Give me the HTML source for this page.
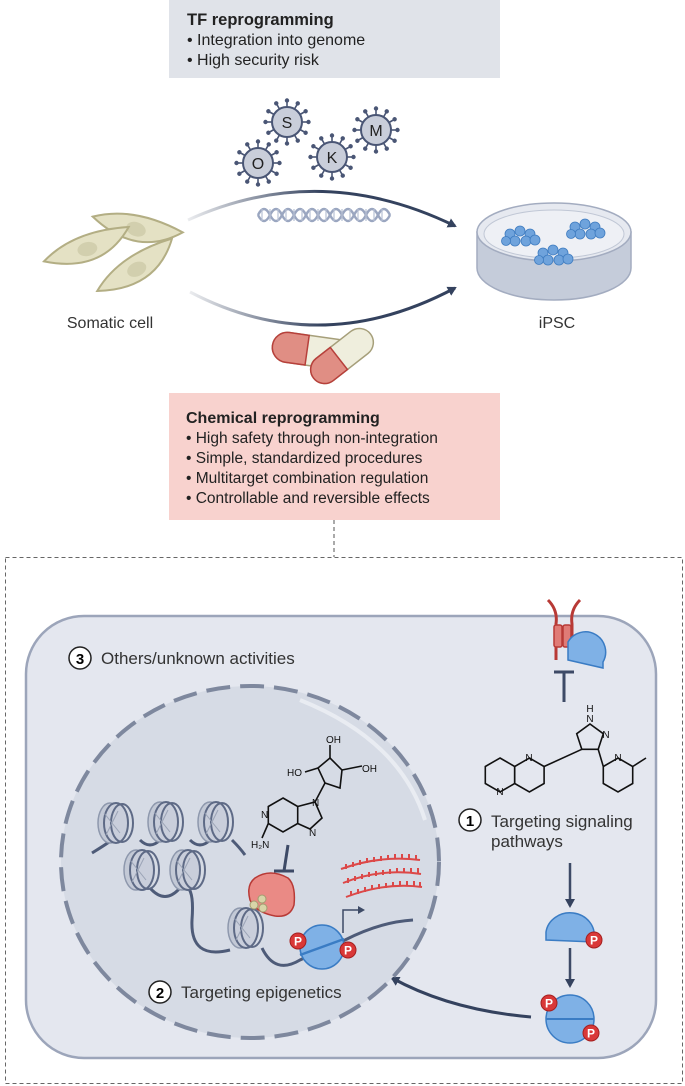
<!DOCTYPE html>
<html><head><meta charset="utf-8"><style>
html,body{margin:0;padding:0;background:#fff;}
svg{display:block;}
text{font-family:"Liberation Sans",Arial,sans-serif;}
</style></head><body>
<svg width="685" height="1086" viewBox="0 0 685 1086" xmlns="http://www.w3.org/2000/svg">
<defs>
<marker id="ah" markerWidth="10" markerHeight="10" refX="7" refY="5" orient="auto" markerUnits="userSpaceOnUse">
<path d="M0,0 L9,5 L0,10 Z" fill="#34425e"/></marker>
<linearGradient id="ga" x1="0" x2="1"><stop offset="0" stop-color="#34425e" stop-opacity="0.1"/><stop offset="0.5" stop-color="#34425e"/></linearGradient>
<g id="spk"><line x1="0" y1="-15" x2="0" y2="-20" stroke="#4a5675" stroke-width="1.6"/><circle cx="0" cy="-21.5" r="2.2" fill="#4a5675"/></g>
<g id="vir">
<use href="#spk"/><use href="#spk" transform="rotate(30)"/><use href="#spk" transform="rotate(60)"/><use href="#spk" transform="rotate(90)"/><use href="#spk" transform="rotate(120)"/><use href="#spk" transform="rotate(150)"/><use href="#spk" transform="rotate(180)"/><use href="#spk" transform="rotate(210)"/><use href="#spk" transform="rotate(240)"/><use href="#spk" transform="rotate(270)"/><use href="#spk" transform="rotate(300)"/><use href="#spk" transform="rotate(330)"/>
<circle r="15" fill="#c9ceda" stroke="#4a5675" stroke-width="2"/></g>
<g id="cel"><path d="M-45,0 Q-10,-24 45,-16 Q10,24 -45,0 Z" fill="#e4e1c4" stroke="#b3ae84" stroke-width="2"/><ellipse cx="0" cy="-3" rx="10" ry="7" fill="#d2cfae"/></g>
<g id="col" fill="#6fa3dc" stroke="#3f7cc0" stroke-width="0.8"><circle cx="-10" cy="-3" r="5"/><circle cx="0" cy="-6" r="5"/><circle cx="10" cy="-3" r="5"/><circle cx="-5" cy="4" r="5"/><circle cx="6" cy="4" r="5"/><circle cx="15" cy="3" r="5"/><circle cx="-14" cy="4" r="4.5"/></g>
<g id="nuc"><ellipse cx="0" cy="0" rx="12" ry="20" fill="#c3c9d6" stroke="#8e98ad" stroke-width="1.5"/><ellipse cx="6" cy="0" rx="12" ry="20" fill="#c9cedb" stroke="#5e6a86" stroke-width="2"/><ellipse cx="12" cy="0" rx="11" ry="19" fill="none" stroke="#5e6a86" stroke-width="2"/><line x1="-6" y1="-10" x2="10" y2="10" stroke="#9aa3b6"/><line x1="-4" y1="12" x2="8" y2="-12" stroke="#9aa3b6"/></g>
<g id="pp"><circle r="8" fill="#d93838" stroke="#a51f1f"/><text y="4.5" text-anchor="middle" font-size="12" font-weight="bold" fill="#fff">P</text></g>
</defs>

<rect x="169" y="0" width="331" height="78" fill="#e0e3e9"/>
<text x="187" y="25" font-size="16.5" font-weight="bold" fill="#222">TF reprogramming</text>
<text x="187" y="45" font-size="16" fill="#222">• Integration into genome</text>
<text x="187" y="65" font-size="16" fill="#222">• High security risk</text>

<use href="#vir" x="287" y="122"/><text x="287" y="128" font-size="16" text-anchor="middle" fill="#222">S</text>
<use href="#vir" x="258" y="163"/><text x="258" y="169" font-size="16" text-anchor="middle" fill="#222">O</text>
<use href="#vir" x="332" y="157"/><text x="332" y="163" font-size="16" text-anchor="middle" fill="#222">K</text>
<use href="#vir" x="376" y="130"/><text x="376" y="136" font-size="16" text-anchor="middle" fill="#222">M</text>

<path d="M188,220 Q320,160 455,226" fill="none" stroke="url(#ga)" stroke-width="3" marker-end="url(#ah)"/>
<path d="M190,292 Q320,360 455,288" fill="none" stroke="url(#ga)" stroke-width="3" marker-end="url(#ah)"/>
<g fill="none" stroke="#9aa6c0" stroke-width="2.5">
<path d="M258,215 q6,-12 12,0 t12,0 t12,0 t12,0 t12,0 t12,0 t12,0 t12,0 t12,0 t12,0 t12,0"/>
<path d="M258,215 q6,12 12,0 t12,0 t12,0 t12,0 t12,0 t12,0 t12,0 t12,0 t12,0 t12,0 t12,0"/>
</g>
<g stroke="#b8c1d4" stroke-width="1.2"><path d="M262,209v12M270,209v12M278,209v12M286,209v12M294,209v12M302,209v12M310,209v12M318,209v12M326,209v12M334,209v12M342,209v12M350,209v12M358,209v12M366,209v12M374,209v12M382,209v12"/></g>

<use href="#cel" transform="translate(135,232) rotate(20)"/>
<use href="#cel" transform="translate(88,252) rotate(-12)"/>
<use href="#cel" transform="translate(138,272) rotate(-25)"/>
<text x="110" y="328" font-size="16" text-anchor="middle" fill="#333">Somatic cell</text>

<path d="M477,232 L477,268 A77,32 0 0 0 631,268 L631,232 Z" fill="#c5ccda" stroke="#a3acc0" stroke-width="1.5"/>
<ellipse cx="554" cy="232" rx="77" ry="29" fill="#e6e9f0" stroke="#a3acc0" stroke-width="1.5"/>
<ellipse cx="554" cy="234" rx="70" ry="24" fill="#eef0f5" stroke="#c0c7d5"/>
<use href="#col" x="520" y="237"/><use href="#col" x="585" y="230"/><use href="#col" x="553" y="256"/>
<text x="557" y="328" font-size="16" text-anchor="middle" fill="#333">iPSC</text>

<g transform="translate(320,352) rotate(8)"><rect x="-48" y="-15" width="80" height="30" rx="15" fill="#efeedd" stroke="#a69f7a" stroke-width="1.5"/><path d="M-33,-15 h20 v30 h-20 a15,15 0 0 1 0,-30z" fill="#e08e84" stroke="#b7403b" stroke-width="1.5"/></g>
<g transform="translate(342,356) rotate(-38)"><rect x="-36" y="-14" width="72" height="28" rx="14" fill="#efeedd" stroke="#a69f7a" stroke-width="1.5"/><path d="M-22,-14 h18 v28 h-18 a14,14 0 0 1 0,-28z" fill="#e08e84" stroke="#b7403b" stroke-width="1.5"/></g>

<rect x="169" y="393" width="331" height="127" fill="#f8d2ce"/>
<text x="186" y="423" font-size="16" font-weight="bold" fill="#222">Chemical reprogramming</text>
<text x="186" y="443" font-size="15.5" fill="#222">• High safety through non-integration</text>
<text x="186" y="463" font-size="15.5" fill="#222">• Simple, standardized procedures</text>
<text x="186" y="483" font-size="15.5" fill="#222">• Multitarget combination regulation</text>
<text x="186" y="503" font-size="15.5" fill="#222">• Controllable and reversible effects</text>

<line x1="334" y1="520" x2="334" y2="557" stroke="#555" stroke-dasharray="4,3"/>
<rect x="5.5" y="557.5" width="677" height="526" fill="none" stroke="#666" stroke-dasharray="4,3"/>

<rect x="26" y="616" width="630" height="442" rx="58" fill="#e4e7ef" stroke="#9ca5ba" stroke-width="2.5"/>
<g fill="#e07b76" stroke="#b83a36" stroke-width="1.5">
<path d="M548,600 q10,10 8,24 v36" fill="none" stroke-width="3"/>
<path d="M580,600 q-10,10 -8,24 v36" fill="none" stroke-width="3"/>
<rect x="554" y="625" width="8" height="22" rx="2"/><rect x="563" y="625" width="8" height="22" rx="2"/>
</g>
<path d="M568,642 A18,18 0 0 1 603,662 L603,668 L568,660 Z" fill="#7fb1e6" stroke="#3a7cc4" stroke-width="1.5"/>
<line x1="564" y1="672" x2="564" y2="702" stroke="#3d4a66" stroke-width="3"/><line x1="554" y1="672" x2="574" y2="672" stroke="#3d4a66" stroke-width="3"/>

<g fill="none" stroke="#111" stroke-width="1.6">
<polygon points="500,758 514.7,766.5 514.7,783.5 500,792 485.3,783.5 485.3,766.5"/>
<polygon points="529.4,758 544.1,766.5 544.1,783.5 529.4,792 514.7,783.5 514.7,766.5"/>
<polygon points="618,758 632.7,766.5 632.7,783.5 618,792 603.3,783.5 603.3,766.5"/>
<polygon points="590,724 603.3,733.7 598.2,749.3 581.8,749.3 576.7,733.7"/>
<line x1="581.8" y1="749.3" x2="544.1" y2="766.5"/><line x1="598.2" y1="749.3" x2="603.3" y2="766.5"/><line x1="632.7" y1="766.5" x2="646" y2="758"/>
</g>
<g font-size="10" fill="#111" text-anchor="middle"><text x="590" y="722">N</text><text x="590" y="712">H</text><text x="606" y="738">N</text><text x="529" y="761">N</text><text x="500" y="795">N</text><text x="618" y="761">N</text></g>

<circle cx="80" cy="658" r="11" fill="#fff" stroke="#222" stroke-width="1.5"/><text x="80" y="664" font-size="15" font-weight="bold" text-anchor="middle">3</text>
<text x="101" y="664" font-size="17" fill="#333">Others/unknown activities</text>
<circle cx="470" cy="820" r="11" fill="#fff" stroke="#222" stroke-width="1.5"/><text x="470" y="826" font-size="15" font-weight="bold" text-anchor="middle">1</text>
<text x="491" y="827" font-size="17" fill="#333">Targeting signaling</text>
<text x="491" y="847" font-size="17" fill="#333">pathways</text>

<line x1="570" y1="863" x2="570" y2="906" stroke="#3d4a66" stroke-width="2.5" marker-end="url(#ah)"/>
<path d="M546,940 L546,932 A24,22 0 0 1 594,938 L594,942 Z" fill="#7fb1e6" stroke="#3a7cc4" stroke-width="1.5"/>
<use href="#pp" x="594" y="940"/>
<line x1="570" y1="948" x2="570" y2="986" stroke="#3d4a66" stroke-width="2.5" marker-end="url(#ah)"/>
<ellipse cx="570" cy="1019" rx="24" ry="24" fill="#7fb1e6" stroke="#3a7cc4" stroke-width="1.5"/><line x1="546" y1="1019" x2="594" y2="1019" stroke="#3a7cc4" stroke-width="2"/>
<use href="#pp" x="549" y="1003"/><use href="#pp" x="591" y="1033"/>
<path d="M531,1017 Q450,1010 392,978" fill="none" stroke="#34425e" stroke-width="3" marker-end="url(#ah)"/>

<ellipse cx="250" cy="862" rx="189" ry="176" fill="#d6dbe5" stroke="#7e889e" stroke-width="4" stroke-dasharray="24,10"/>
<path d="M300,700 Q400,740 425,820" fill="none" stroke="#eef0f5" stroke-width="4" opacity="0.8"/>

<path d="M92,853 Q105,845 112,840 M140,840 Q150,850 160,840 M190,840 Q200,850 210,840 M232,840 Q240,848 245,855 M150,888 Q165,905 180,888 Q195,880 192,920 Q190,960 230,950 M262,948 Q275,975 300,960 L345,940 Q380,922 413,920" fill="none" stroke="#4e5b78" stroke-width="3"/>
<use href="#nuc" x="110" y="823"/><use href="#nuc" x="160" y="822"/><use href="#nuc" x="210" y="822"/><use href="#nuc" x="136" y="870"/><use href="#nuc" x="182" y="870"/>
<use href="#nuc" x="240" y="928"/>

<path d="M255,878 Q270,868 288,878 Q296,885 294,905 Q290,918 275,916 Q255,912 250,900 Q246,885 255,878 Z" fill="#ea8a85" stroke="#b83a36" stroke-width="1.5"/>
<g fill="#d8d4a8" stroke="#a39c70"><circle cx="254" cy="905" r="4"/><circle cx="262" cy="899" r="4"/><circle cx="263" cy="908" r="4"/></g>

<g fill="none" stroke="#111" stroke-width="1.6">
<polygon points="283,798 297.7,806.5 297.7,823.5 283,832 268.3,823.5 268.3,806.5"/>
<polyline points="297.7,806.5 315,802 322,818 310,829 297.7,823.5"/>
<line x1="315" y1="802" x2="325" y2="783"/>
<polygon points="325,783 340,788 342,770 330,758 318,768" />
<line x1="342" y1="770" x2="362" y2="766"/><line x1="330" y1="758" x2="330" y2="745"/><line x1="318" y1="768" x2="305" y2="772"/>
<line x1="268.3" y1="823.5" x2="262" y2="838"/>
</g>
<g font-size="10" fill="#111"><text x="312" y="806">N</text><text x="309" y="836">N</text><text x="261" y="818">N</text><text x="251" y="848">H₂N</text><text x="326" y="743">OH</text><text x="287" y="776">HO</text><text x="362" y="772">OH</text></g>
<line x1="288" y1="845" x2="284" y2="871" stroke="#3d4a66" stroke-width="3"/><line x1="274" y1="871" x2="294" y2="871" stroke="#3d4a66" stroke-width="3"/>

<g fill="none" stroke="#dc4848" stroke-width="2">
<path d="M341,869 Q380,855 420,860"/><path d="M343,883 Q380,868 421,874"/><path d="M346,897 Q385,882 422,887"/>
<path d="M346,869v-5M353,867v-5M360,865v-5M367,863v-5M374,862v-5M381,861v-5M388,860v-5M395,859v-5M402,859v-5M409,859v-5M416,860v-5M348,883v-5M355,881v-5M362,879v-5M369,877v-5M376,876v-5M383,875v-5M390,874v-5M397,873v-5M404,873v-5M411,873v-5M418,873v-5M351,896v-5M358,894v-5M365,892v-5M372,890v-5M379,889v-5M386,888v-5M393,887v-5M400,886v-5M407,886v-5M414,886v-5M420,887v-5"/>
</g>
<path d="M343,933 V910 H362" fill="none" stroke="#3d4a66" stroke-width="1.5"/><path d="M358,906 L365,910 L358,914Z" fill="#3d4a66"/>
<circle cx="322" cy="947" r="22" fill="#7fb1e6" stroke="#3a7cc4" stroke-width="1.5"/>
<line x1="300" y1="955" x2="344" y2="939" stroke="#3a7cc4" stroke-width="2.5"/>
<use href="#pp" x="298" y="941"/><use href="#pp" x="348" y="950"/>

<circle cx="160" cy="992" r="11" fill="#fff" stroke="#222" stroke-width="1.5"/><text x="160" y="998" font-size="15" font-weight="bold" text-anchor="middle">2</text>
<text x="181" y="998" font-size="17" fill="#333">Targeting epigenetics</text>
</svg>
</body></html>
